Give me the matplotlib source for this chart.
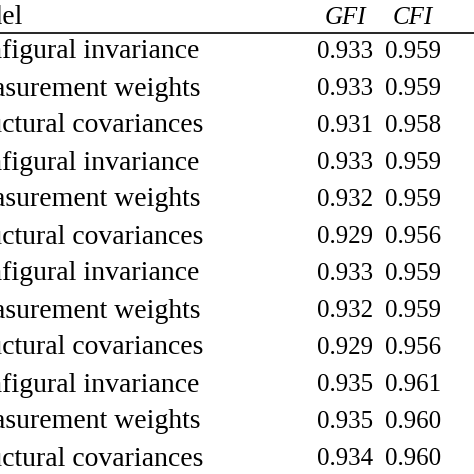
import matplotlib
matplotlib.use("Agg")
import matplotlib.pyplot as plt

models = ["Configural invariance", "Measurement weights", "Structural covariances"] * 4
gfi = ["0.933", "0.933", "0.931", "0.933", "0.932", "0.929", "0.933", "0.932", "0.929", "0.935", "0.935", "0.934"]
cfi = ["0.959", "0.959", "0.958", "0.959", "0.959", "0.956", "0.959", "0.959", "0.956", "0.961", "0.960", "0.960"]
headers = ["Model", "GFI", "CFI"]

W = H = 474
fig = plt.figure(figsize=(4.74, 4.74), dpi=100)
fig.patch.set_facecolor("white")
fs = 18
fsl = 20
fam = ["Liberation Serif", "DejaVu Serif"]

def fx(px): return px / W
def fy(py): return 1 - py / H

fig.text(fx(-50), fy(18), headers[0], fontsize=fsl, family=fam, ha="left", va="center")
fig.text(fx(345), fy(18), headers[1], fontsize=fs, family=fam, style="italic", ha="center", va="center")
fig.text(fx(413), fy(18), headers[2], fontsize=fs, family=fam, style="italic", ha="center", va="center")
fig.add_artist(plt.Line2D([0, 1], [fy(33), fy(33)], color="black", lw=1.2))

for i, (m, g, c) in enumerate(zip(models, gfi, cfi)):
    y = fy(52 + i * 37)
    fig.text(fx(-44), y, m, fontsize=fsl, family=fam, ha="left", va="center")
    fig.text(fx(345), y, g, fontsize=fs, family=fam, ha="center", va="center")
    fig.text(fx(413), y, c, fontsize=fs, family=fam, ha="center", va="center")

fig.savefig("out.png", dpi=100)
